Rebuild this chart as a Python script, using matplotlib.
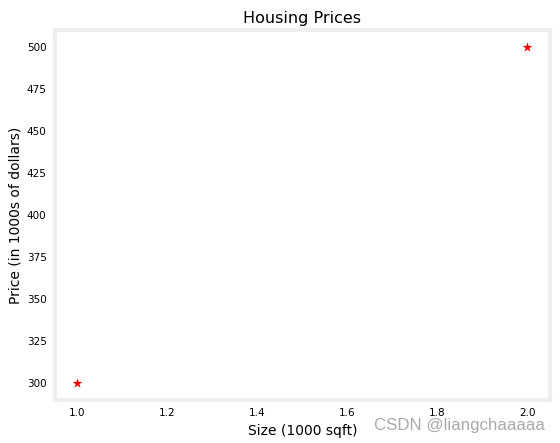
import numpy as np
import matplotlib.pyplot as plt

# 训练数据
x_train = np.array([1.0, 2.0])
y_train = np.array([300.0, 500.0])

fig = plt.figure(figsize=(5.6, 4.43), dpi=100)
ax = fig.add_axes([0.098, 0.097, 0.884, 0.835])

ax.scatter(x_train, y_train, marker='*', c='r', s=55, linewidths=0)

ax.set_title("Housing Prices", fontsize=11.5, pad=5)
ax.set_ylabel('Price (in 1000s of dollars)', fontsize=10, labelpad=3)
ax.set_xlabel('Size (1000 sqft)', fontsize=10, labelpad=4)

ax.set_xticks(np.arange(1.0, 2.01, 0.2))
ax.set_yticks(np.arange(300, 501, 25))
ax.tick_params(axis='both', length=0, labelsize=7.5, pad=6)

# 浅灰色粗边框
for sp in ax.spines.values():
    sp.set_color('#efefef')
    sp.set_linewidth(3)

# 水印
fig.text(0.668, 0.03, 'CSDN @liangchaaaaa', fontsize=12.2, color='#aaaaaa',
         family='Liberation Sans')

fig.savefig('out.png', dpi=100, facecolor='white')
